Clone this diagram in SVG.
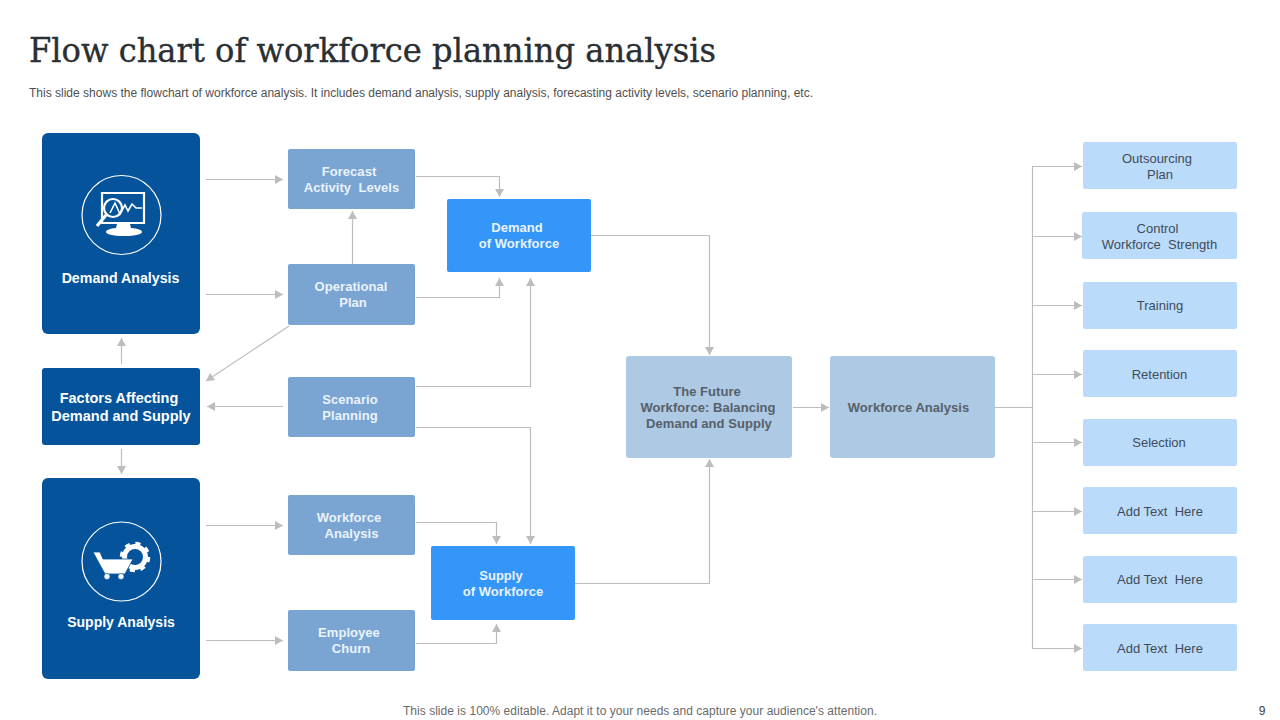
<svg xmlns="http://www.w3.org/2000/svg" width="1280" height="720" viewBox="0 0 1280 720">
<style>
text{font-family:"Liberation Sans",Arial,sans-serif;text-anchor:middle;font-size:13px;letter-spacing:.05px;white-space:pre;transform:translateY(-.5px)}
.w{fill:#fff;font-weight:700;font-size:14.500px;letter-spacing:0}
.lt{fill:#eaf3fc;font-weight:700}
.d{fill:#56606b;font-weight:700}
.s{fill:#404b5a;letter-spacing:0}
.navy{fill:#04539b}
.mid{fill:#7aa5d2}
.bright{fill:#3396f8}
.pale{fill:#adc9e3}
.light{fill:#bbdbfb}
.c{fill:none;stroke:#bdbdbd;stroke-width:1.2}
.m{marker-end:url(#a)}
</style>
<defs><marker id="a" markerUnits="userSpaceOnUse" markerWidth="9" markerHeight="9" refX="8" refY="4.5" orient="auto"><path d="M0 0L8 4.5L0 9z" fill="#bdbdbd"/></marker></defs>
<rect width="1280" height="720" fill="#fff"/>
<text x="29" y="62" textLength="687" lengthAdjust="spacingAndGlyphs" stroke="#2a2f33" stroke-width=".35" style="font-family:'DejaVu Serif',serif;font-size:33.500px;text-anchor:start;fill:#2a2f33;letter-spacing:0">Flow chart of workforce planning analysis</text>
<text x="29" y="97" textLength="784" style="font-size:12px;text-anchor:start;fill:#505050;letter-spacing:0">This slide shows the flowchart of workforce analysis. It includes demand analysis, supply analysis, forecasting activity levels, scenario planning, etc.</text>
<g id="connectors">
<path class="c m" d="M206 179.500H283"/>
<path class="c m" d="M206 294.500H283"/>
<path class="c m" d="M352.500 264V211"/>
<path class="c m" d="M416 176.500H499.500V197"/>
<path class="c m" d="M416 297.500H499.500V278"/>
<path class="c m" d="M289 326L206 381"/>
<path class="c m" d="M121.500 364V338"/>
<path class="c m" d="M121.500 449V474"/>
<path class="c m" d="M283 406.500H207"/>
<path class="c m" d="M416 386.500H530.500V278"/>
<path class="c m" d="M416 427.500H530.500V544"/>
<path class="c m" d="M206 525.500H283"/>
<path class="c m" d="M206 640.500H283"/>
<path class="c m" d="M416 522.500H496.500V544"/>
<path class="c m" d="M416 643.500H496.500V624"/>
<path class="c m" d="M591 235.500H709.500V355"/>
<path class="c m" d="M575 583.500H709.500V459"/>
<path class="c m" d="M793 407.500H829"/>
<path class="c" d="M995 407.500H1032.500"/>
<path class="c" d="M1032.500 166V649"/>
<path class="c m" d="M1032.500 166.500H1082"/>
<path class="c m" d="M1032.500 236.500H1082"/>
<path class="c m" d="M1032.500 305.500H1082"/>
<path class="c m" d="M1032.500 374.500H1082"/>
<path class="c m" d="M1032.500 442.500H1082"/>
<path class="c m" d="M1032.500 511.500H1082"/>
<path class="c m" d="M1032.500 579.500H1082"/>
<path class="c m" d="M1032.500 648.500H1082"/>
</g>
<g id="demand-analysis"><rect class="navy" x="42" y="133" width="158" height="201" rx="6"/>
<circle cx="121.500" cy="215" r="39.500" fill="none" stroke="#fff" stroke-width="1.200"/>
<path d="M102 223V193H144V223z" fill="none" stroke="#fff" stroke-width="2.200"/>
<path d="M117 224h13l1 4c7 .5 11 2 11 4 0 2-6 4-18 4s-18-2-18-4c0-2 4-3.500 10-4z" fill="#fff"/>
<circle cx="113" cy="208" r="9" fill="#04539b" stroke="#fff" stroke-width="2.200"/>
<path d="M106 215L97 226" stroke="#fff" stroke-width="3.200" fill="none"/>
<path d="M110 213L115 203L120 214L125 205L128 211L132 204L136 208H142" stroke="#fff" stroke-width="1.600" fill="none"/>
<text class="w" x="120.500" y="283" style="font-size:14.200px">Demand Analysis</text></g>
<g id="factors"><rect class="navy" x="42" y="368" width="158" height="77" rx="3"/>
<text class="w" x="119" y="403">Factors Affecting</text><text class="w" x="121" y="421">Demand and Supply</text></g>
<g id="supply-analysis"><rect class="navy" x="42" y="478" width="158" height="201" rx="6"/>
<circle cx="121.500" cy="561.500" r="39.500" fill="none" stroke="#fff" stroke-width="1.200"/>
<circle cx="135" cy="557" r="10.500" fill="none" stroke="#fff" stroke-width="5"/>
<circle cx="135" cy="557" r="13.500" fill="none" stroke="#fff" stroke-width="3.500" stroke-dasharray="5 5.600"/>
<path d="M93 552H100L103 559H133L125 574H105z" fill="#fff" stroke="#04539b" stroke-width=".8"/>
<circle cx="107" cy="576.500" r="3" fill="#fff" stroke="#04539b" stroke-width=".6"/><circle cx="121" cy="576.500" r="3" fill="#fff" stroke="#04539b" stroke-width=".6"/>
<text class="w" x="121" y="627" style="font-size:14px">Supply Analysis</text></g>
<g id="forecast"><rect class="mid" x="288" y="149" width="127" height="60" rx="2"/><text class="lt" x="349" y="176">Forecast</text><text class="lt" x="351.500" y="192">Activity  Levels</text></g>
<g id="operational"><rect class="mid" x="288" y="264" width="127" height="61" rx="2"/><text class="lt" x="351" y="291">Operational</text><text class="lt" x="353" y="307">Plan</text></g>
<g id="scenario"><rect class="mid" x="288" y="377" width="127" height="60" rx="2"/><text class="lt" x="350" y="404">Scenario</text><text class="lt" x="350" y="420">Planning</text></g>
<g id="workforce"><rect class="mid" x="288" y="495" width="127" height="60" rx="2"/><text class="lt" x="349" y="522">Workforce</text><text class="lt" x="351.500" y="538">Analysis</text></g>
<g id="churn"><rect class="mid" x="288" y="610" width="127" height="61" rx="2"/><text class="lt" x="349" y="637">Employee</text><text class="lt" x="351" y="653">Churn</text></g>
<g id="demand"><rect class="bright" x="447" y="199" width="144" height="73" rx="2"/><text class="lt" x="517" y="232">Demand</text><text class="lt" x="519" y="248">of Workforce</text></g>
<g id="supply"><rect class="bright" x="431" y="546" width="144" height="74" rx="2"/><text class="lt" x="501" y="580">Supply</text><text class="lt" x="503" y="596">of Workforce</text></g>
<g id="future"><rect class="pale" x="626" y="356" width="166" height="102" rx="3"/><text class="d" x="707" y="396">The Future</text><text class="d" x="708" y="412">Workforce: Balancing</text><text class="d" x="709" y="428">Demand and Supply</text></g>
<g id="analysis"><rect class="pale" x="830" y="356" width="165" height="102" rx="3"/><text class="d" x="908.500" y="412">Workforce Analysis</text></g>
<g id="o1"><rect class="light" x="1083" y="142" width="154" height="47" rx="2"/><text class="s" x="1157" y="163">Outsourcing</text><text class="s" x="1160" y="179">Plan</text></g>
<g id="o2"><rect class="light" x="1082" y="212" width="155" height="47" rx="2"/><text class="s" x="1157.500" y="233">Control</text><text class="s" x="1159.500" y="249">Workforce  Strength</text></g>
<g id="o3"><rect class="light" x="1083" y="282" width="154" height="47" rx="2"/><text class="s" x="1160" y="310">Training</text></g>
<g id="o4"><rect class="light" x="1083" y="350" width="154" height="47" rx="2"/><text class="s" x="1159.500" y="379">Retention</text></g>
<g id="o5"><rect class="light" x="1083" y="419" width="154" height="47" rx="2"/><text class="s" x="1159" y="447">Selection</text></g>
<g id="o6"><rect class="light" x="1083" y="487" width="154" height="47" rx="2"/><text class="s" x="1160" y="516">Add Text  Here</text></g>
<g id="o7"><rect class="light" x="1083" y="556" width="154" height="47" rx="2"/><text class="s" x="1160" y="584">Add Text  Here</text></g>
<g id="o8"><rect class="light" x="1083" y="624" width="154" height="47" rx="2"/><text class="s" x="1160" y="653">Add Text  Here</text></g>
<text x="640" y="715" textLength="474" style="font-size:12px;fill:#6b6b6b;letter-spacing:0">This slide is 100% editable. Adapt it to your needs and capture your audience's attention.</text>
<text x="1262" y="715" style="font-size:12px;fill:#404040">9</text>
</svg>
